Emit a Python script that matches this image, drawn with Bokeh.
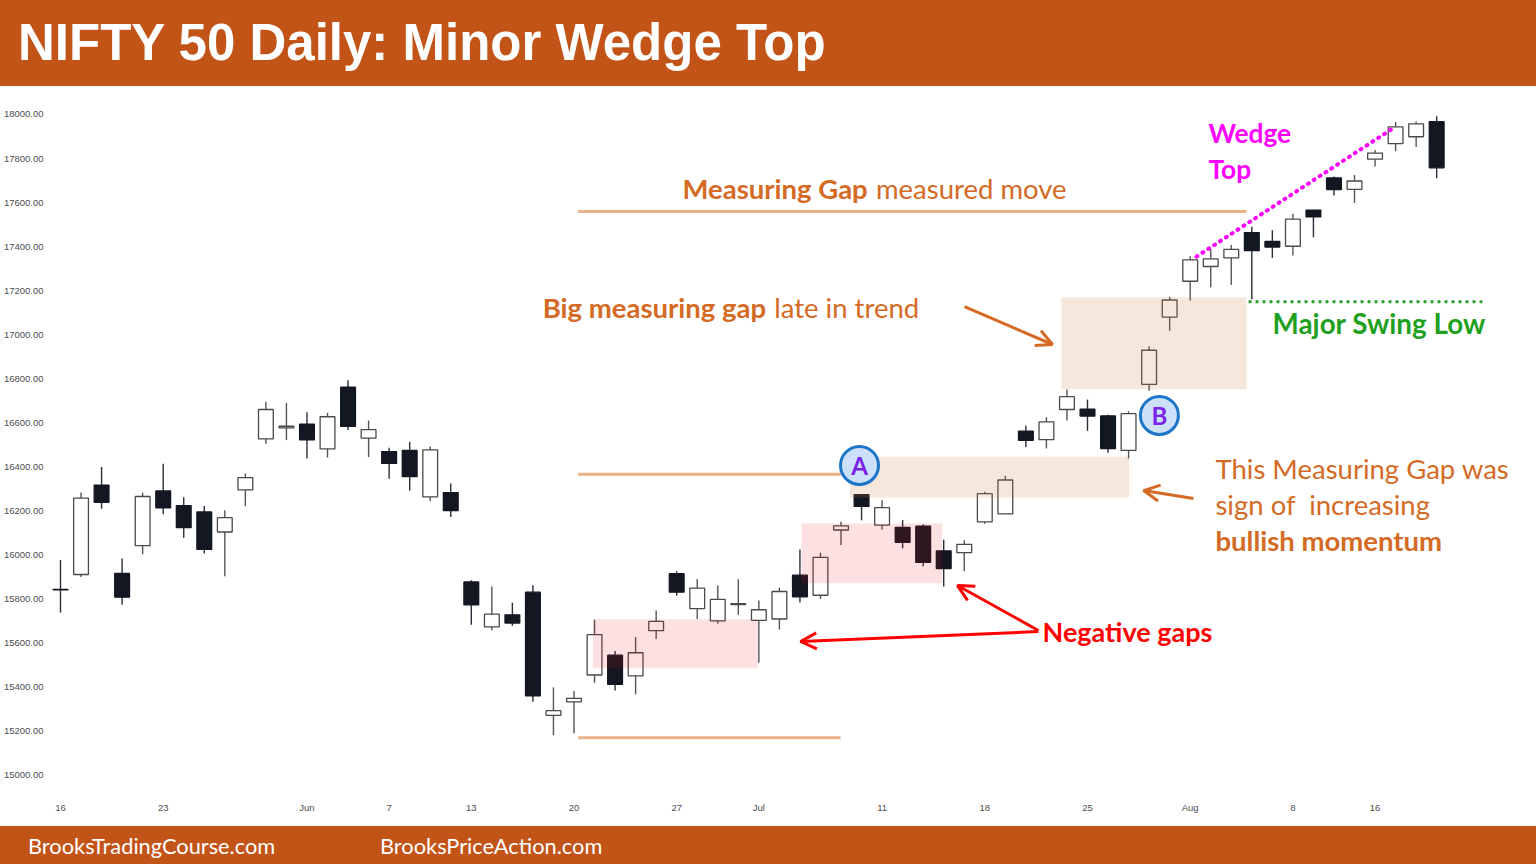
from bokeh.plotting import figure
from bokeh.models import (FixedTicker, Div, Arrow, OpenHead, Range1d,
                          PrintfTickFormatter, ColumnDataSource)
from bokeh.layouts import column
from bokeh.core.properties import value
from bokeh.embed import file_html
from bokeh.resources import INLINE

# ---------------- data (NIFTY 50 daily, 16 May - 19 Aug 2022) ----------------
dates = ["May 16", "May 17", "May 18", "May 19", "May 20",
         "May 23", "May 24", "May 25", "May 26", "May 27",
         "May 30", "May 31", "Jun 1", "Jun 2", "Jun 3",
         "Jun 6", "Jun 7", "Jun 8", "Jun 9", "Jun 10",
         "Jun 13", "Jun 14", "Jun 15", "Jun 16", "Jun 17",
         "Jun 20", "Jun 21", "Jun 22", "Jun 23", "Jun 24",
         "Jun 27", "Jun 28", "Jun 29", "Jun 30", "Jul 1",
         "Jul 4", "Jul 5", "Jul 6", "Jul 7", "Jul 8",
         "Jul 11", "Jul 12", "Jul 13", "Jul 14", "Jul 15",
         "Jul 18", "Jul 19", "Jul 20", "Jul 21", "Jul 22",
         "Jul 25", "Jul 26", "Jul 27", "Jul 28", "Jul 29",
         "Aug 1", "Aug 2", "Aug 3", "Aug 4", "Aug 5",
         "Aug 8", "Aug 10", "Aug 11", "Aug 12",
         "Aug 16", "Aug 17", "Aug 18", "Aug 19"]

opens = [15845, 15912, 16318, 15917, 16043,
         16291, 16225, 16196, 16105, 16296,
         16528, 16578, 16594, 16482, 16762,
         16531, 16470, 16475, 16264, 16284,
         15878, 15674, 15729, 15832, 15273,
         15334, 15456, 15546, 15452, 15657,
         15916, 15757, 15702, 15775, 15704,
         15710, 15909, 15818, 16114, 16274,
         16136, 16126, 16131, 16019, 16011,
         16151, 16187, 16563, 16524, 16661,
         16663, 16632, 16475, 16775, 17080,
         17243, 17310, 17349, 17464, 17424,
         17402, 17566, 17712, 17660,
         17797, 17868, 17899, 17967]

highs = [15978, 16284, 16400, 15985, 16283,
         16415, 16263, 16223, 16204, 16371,
         16696, 16691, 16649, 16646, 16794,
         16611, 16487, 16514, 16493, 16325,
         15886, 15858, 15784, 15863, 15400,
         15383, 15707, 15565, 15628, 15749,
         15927, 15892, 15862, 15890, 15794,
         15852, 16026, 16011, 16151, 16276,
         16249, 16159, 16140, 16070, 16067,
         16288, 16360, 16588, 16626, 16752,
         16706, 16637, 16653, 16948, 17173,
         17356, 17390, 17408, 17491, 17474,
         17549, 17566, 17719, 17725,
         17839, 17966, 17968, 17992]

lows = [15740, 15901, 16211, 15775, 16004,
        16186, 16079, 16007, 15904, 16222,
        16506, 16522, 16439, 16443, 16568,
        16445, 16347, 16293, 16244, 16173,
        15684, 15659, 15679, 15335, 15183,
        15191, 15420, 15386, 15368, 15619,
        15816, 15710, 15688, 15729, 15511,
        15662, 15785, 15801, 16046, 16158,
        16116, 16031, 15950, 15858, 15927,
        16142, 16187, 16490, 16484, 16611,
        16564, 16465, 16439, 16746, 17018,
        17155, 17216, 17226, 17161, 17349,
        17360, 17443, 17632, 17598,
        17764, 17833, 17852, 17711]

closes = [15842, 16259, 16240, 15809, 16266,
          16215, 16125, 16026, 16170, 16352,
          16661, 16585, 16523, 16628, 16584,
          16570, 16416, 16356, 16478, 16202,
          15774, 15732, 15692, 15361, 15294,
          15350, 15639, 15413, 15557, 15699,
          15832, 15850, 15799, 15780, 15752,
          15835, 15811, 15990, 16133, 16221,
          16216, 16058, 15967, 15939, 16049,
          16279, 16341, 16521, 16605, 16719,
          16631, 16484, 16642, 16930, 17158,
          17340, 17345, 17388, 17382, 17398,
          17525, 17535, 17659, 17698,
          17825, 17944, 17957, 17758]

x_tick_positions = [0, 5, 12, 16, 20, 25, 30, 34, 40, 45, 50, 55, 60, 64]
x_tick_labels = ["16", "23", "Jun", "7", "13", "20", "27", "Jul",
                 "11", "18", "25", "Aug", "8", "16"]
y_tick_values = [15000, 15200, 15400, 15600, 15800, 16000, 16200, 16400,
                 16600, 16800, 17000, 17200, 17400, 17600, 17800, 18000]

# reference levels / zones
measured_move_level = 17560
gap_a_level = 16367
swing_low_start_level = 15171
major_swing_low_level = 17150

# ---------------- styles ----------------
ORANGE_BAR = "#C25418"
TXT_ORANGE = "#D46A24"
LINE_ORANGE = "#EBB38A"
BULL_LINE = "#4a4a4a"
BEAR_FILL = "#131722"
FONT = "Lato"

idx = list(range(len(dates)))
bull = [c >= o for o, c in zip(opens, closes)]
src = ColumnDataSource(dict(
    x=idx, date=dates, open=opens, high=highs, low=lows, close=closes,
    top=[max(o, c) for o, c in zip(opens, closes)],
    bottom=[min(o, c) for o, c in zip(opens, closes)],
    fill=["#ffffff" if b else BEAR_FILL for b in bull],
    line=[BULL_LINE if b else BEAR_FILL for b in bull],
    wick=["#555555" if b else "#2a2e39" for b in bull],
))

p = figure(width=1536, height=740,
           x_range=Range1d(-0.584, 71.86), y_range=Range1d(14909, 18127),
           output_backend="svg", toolbar_location=None,
           min_border_left=48, min_border_right=0, min_border_top=0,
           min_border_bottom=31)
p.outline_line_color = None
p.xgrid.visible = False
p.ygrid.visible = False
p.background_fill_color = "white"
p.border_fill_color = "white"

for ax in (p.xaxis[0], p.yaxis[0]):
    ax.axis_line_color = None
    ax.major_tick_line_color = None
    ax.minor_tick_line_color = None
    ax.major_tick_out = 0
    ax.major_tick_in = 0
    ax.major_label_text_font = "Liberation Sans"
    ax.major_label_text_font_size = "9.5px"
    ax.major_label_text_color = "#4d4d4d"

p.xaxis.ticker = FixedTicker(ticks=x_tick_positions)
p.xaxis.major_label_overrides = {k: v for k, v in zip(x_tick_positions, x_tick_labels)}
p.xaxis.major_label_standoff = 6
p.yaxis.ticker = FixedTicker(ticks=y_tick_values)
p.yaxis.formatter = PrintfTickFormatter(format="%.2f")
p.yaxis.major_label_standoff = 5

# candles
p.segment(x0="x", y0="low", x1="x", y1="high", source=src, line_color="wick", line_width=1.4)
p.vbar(x="x", width=0.72, top="top", bottom="bottom", source=src,
       fill_color="fill", line_color="line", line_width=1.3)

# zones (drawn on top, translucent)
p.quad(left=[48.73], right=[57.74], bottom=[16753], top=[17171],
       fill_color="#C8783C", fill_alpha=0.18, line_color=None)
p.quad(left=[38.43], right=[52.03], bottom=[16262], top=[16447],
       fill_color="#C8783C", fill_alpha=0.18, line_color=None)
p.quad(left=[25.92, 36.08], right=[33.95, 42.93],
       bottom=[15487, 15872], top=[15709, 16143],
       fill_color="#F01820", fill_alpha=0.13, line_color=None)

# horizontal reference lines
p.line(x=[25.2, 57.74], y=[measured_move_level] * 2, line_color=LINE_ORANGE, line_width=3)
p.line(x=[25.2, 38.0], y=[gap_a_level] * 2, line_color=LINE_ORANGE, line_width=3)
p.line(x=[25.2, 37.98], y=[swing_low_start_level] * 2, line_color=LINE_ORANGE, line_width=3)

# wedge line and major swing low
p.line(x=[55.31, 64.85], y=[17355, 17936], line_color="#FF00FF", line_width=4,
       line_dash="1 6", line_cap="round")
p.line(x=[57.84, 69.23], y=[major_swing_low_level] * 2, line_color="#2E9E2E",
       line_width=3, line_dash="3 4")

# arrows
p.add_layout(Arrow(end=OpenHead(size=16, line_color=TXT_ORANGE, line_width=3),
                   x_start=44.01, y_start=17128, x_end=48.30, y_end=16956,
                   line_color=TXT_ORANGE, line_width=3))
p.add_layout(Arrow(end=OpenHead(size=16, line_color=TXT_ORANGE, line_width=3),
                   x_start=55.16, y_start=16257, x_end=52.73, y_end=16293,
                   line_color=TXT_ORANGE, line_width=3))
p.add_layout(Arrow(end=OpenHead(size=16, line_color="#FF0000", line_width=3),
                   x_start=47.61, y_start=15653, x_end=36.03, y_end=15608,
                   line_color="#FF0000", line_width=3))
p.add_layout(Arrow(end=OpenHead(size=16, line_color="#FF0000", line_width=3),
                   x_start=47.61, y_start=15658, x_end=43.67, y_end=15862,
                   line_color="#FF0000", line_width=3))

# circles A and B
p.scatter(x=[38.90, 53.50], y=[16407, 16634], marker="circle", size=38,
          fill_color="#CCE0FA", line_color="#1B75C9", line_width=3)
p.text(x=[38.90, 53.50], y=[16407, 16634], text=["A", "B"],
       text_font=value(FONT), text_font_style="bold", text_font_size="24px",
       text_color="#7B22E8", text_align="center", text_baseline="middle")

# texts
def txt(x, y, s, color, bold=False, size="27.5px", align="left"):
    p.text(x=[x], y=[y], text=[s], text_font=value(FONT),
           text_font_style="bold" if bold else "normal", text_font_size=size,
           text_color=color, text_align=align, text_baseline="middle")

txt(39.3, 17662, "Measuring Gap", TXT_ORANGE, bold=True, align="right")
txt(39.7, 17662, "measured move", TXT_ORANGE)
txt(34.35, 17126, "Big measuring gap", TXT_ORANGE, bold=True, align="right")
txt(34.75, 17126, "late in trend", TXT_ORANGE)
txt(56.23, 16391, "This Measuring Gap was", TXT_ORANGE)
txt(56.23, 16230, "sign of\u00a0 increasing", TXT_ORANGE)
txt(56.23, 16066, "bullish momentum", TXT_ORANGE, bold=True)
txt(47.81, 15652, "Negative gaps", "#FF0000", bold=True, size="27px")
txt(59.01, 17050, "Major Swing Low", "#1FA01F", bold=True, size="27.8px")
txt(55.89, 17916, "Wedge", "#FF00FF", bold=True, size="26.3px")
txt(55.89, 17752, "Top", "#FF00FF", bold=True, size="26.3px")

title = Div(text=('<div style="width:1536px;height:86px;background:%s;color:#ffffff;'
                  'font-family:\'Liberation Sans\',Arial,sans-serif;font-weight:bold;'
                  'font-size:51px;line-height:86px;padding-left:18px;box-sizing:border-box;'
                  'white-space:nowrap;overflow:hidden;">NIFTY 50 Daily: Minor Wedge Top</div>') % ORANGE_BAR,
            width=1536, height=86, margin=0)
footer = Div(text=('<div style="position:relative;width:1536px;height:38px;background:%s;color:#ffffff;'
                   'font-family:Lato,sans-serif;font-size:21.8px;line-height:39px;overflow:hidden;">'
                   '<span style="position:absolute;left:28px;">BrooksTradingCourse.com</span>'
                   '<span style="position:absolute;left:380px;">BrooksPriceAction.com</span></div>') % ORANGE_BAR,
             width=1536, height=38, margin=0)

layout = column(title, p, footer, spacing=0, margin=0)

open("out.html", "w").write(file_html(layout, INLINE))
